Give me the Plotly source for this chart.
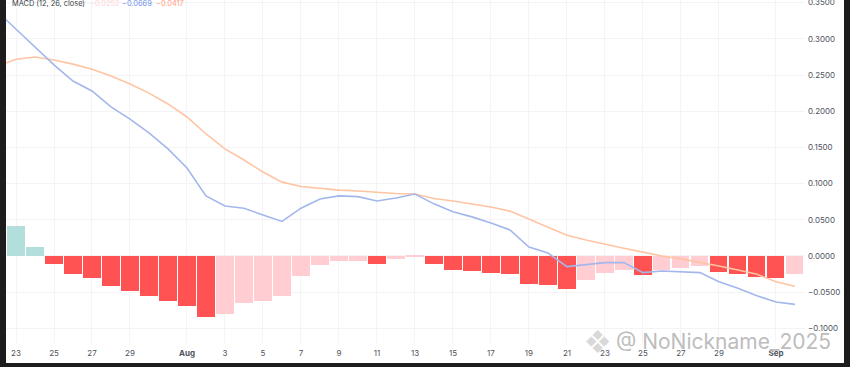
import pandas as pd
import plotly.graph_objects as go

dates = pd.date_range("2025-07-22", "2025-09-02", freq="D")

hist_dates = dates[1:]
hist_values = [0.0414, 0.012, -0.0106, -0.0244, -0.030, -0.042, -0.049, -0.055, -0.062, -0.0695, -0.0847,
               -0.0797, -0.0654, -0.062, -0.0557, -0.028, -0.0129, -0.0074, -0.0069, -0.0106, -0.004, -0.001,
               -0.0115, -0.0189, -0.0207, -0.023, -0.0253, -0.039, -0.040, -0.0456,
               -0.0327, -0.024, -0.0198, -0.0267, -0.020, -0.017, -0.0143,
               -0.0216, -0.0249, -0.0285, -0.030, -0.0252]
hist_colors = (["#B2DFDB"] * 2 + ["#FF5252"] * 9 + ["#FFCDD2"] * 8 + ["#FF5252"] + ["#FFCDD2"] * 2
               + ["#FF5252"] * 8 + ["#FFCDD2"] * 3 + ["#FF5252"] + ["#FFCDD2"] * 3
               + ["#FF5252"] * 4 + ["#FFCDD2"])

macd_values = [0.338, 0.313, 0.288, 0.264, 0.2417, 0.228, 0.206, 0.189, 0.170, 0.148, 0.1215, 0.083,
               0.069, 0.066, 0.0566, 0.0477, 0.066, 0.0787, 0.083, 0.082, 0.076, 0.080, 0.0856,
               0.072, 0.061, 0.054, 0.0456, 0.036, 0.0124, 0.004, -0.0147, -0.0124, -0.0092, -0.0092,
               -0.023, -0.0207, -0.0217, -0.023, -0.0355, -0.0445, -0.055, -0.0635, -0.0669]
signal_values = [0.262, 0.2717, 0.2748, 0.2707, 0.265, 0.258, 0.2486, 0.2376, 0.225, 0.21, 0.192, 0.1685,
                 0.148, 0.1326, 0.116, 0.102, 0.096, 0.093, 0.091, 0.0898, 0.0877, 0.0863, 0.0856,
                 0.0794, 0.076, 0.0718, 0.0677, 0.062, 0.051, 0.04, 0.0287, 0.022, 0.016, 0.0107,
                 0.0053, 0.0, -0.004, -0.0087, -0.0138, -0.0193, -0.0253, -0.0355, -0.0417]

x_tick_dates = ["2025-07-23", "2025-07-25", "2025-07-27", "2025-07-29", "2025-08-01", "2025-08-03", "2025-08-05",
                "2025-08-07", "2025-08-09", "2025-08-11", "2025-08-13", "2025-08-15", "2025-08-17", "2025-08-19",
                "2025-08-21", "2025-08-23", "2025-08-25", "2025-08-27", "2025-08-29", "2025-09-01"]
x_tick_labels = ["23", "25", "27", "29", "<b>Aug</b>", "3", "5", "7", "9", "11", "13", "15", "17", "19", "21",
                 "23", "25", "27", "29", "<b>Sep</b>"]
y_ticks = [0.35, 0.30, 0.25, 0.20, 0.15, 0.10, 0.05, 0.0, -0.05, -0.10]
y_labels = ["0.3500", "0.3000", "0.2500", "0.2000", "0.1500", "0.1000", "0.0500", "0.0000", "−0.0500", "−0.1000"]

W, H = 850, 367
L, R, T, B = 6, 45, 0, 24
PW, PH = W - L - R, H - T - B
TEXT = "#50535E"
DARK = "#1d1d1d"

fig = go.Figure()
fig.add_bar(x=hist_dates, y=hist_values, marker=dict(color=hist_colors, line_width=0),
            width=0.9 * 86400000, showlegend=False)
fig.add_scatter(x=dates, y=signal_values, mode="lines", line=dict(color="#FFC4A3", width=1.6), showlegend=False)
fig.add_scatter(x=dates, y=macd_values, mode="lines", line=dict(color="#A3B7EC", width=1.6), showlegend=False)

border = [(-L / PW, 0, -B / PH, 1),
          ((W - 6 - L) / PW, (W - L) / PW, -B / PH, 1),
          (-L / PW, (W - L) / PW, -B / PH, -(B - 4) / PH)]
shapes = [dict(type="rect", xref="paper", yref="paper", x0=a, x1=b, y0=c, y1=d,
               fillcolor=DARK, line_width=0, layer="above") for a, b, c, d in border]


def ann(text, px, py, size, color, anchor="left"):
    return dict(text=text, xref="paper", yref="paper", x=(px - L) / PW, y=1 - (py - T) / PH,
                xanchor=anchor, yanchor="middle", showarrow=False,
                font=dict(family="Inter, Liberation Sans, sans-serif", size=size, color=color))


annotations = [
    ann("MACD (12, 26, close)", 10, 4, 7.4, "#3a3d46"),
    ann("−0.0252", 88, 4, 7.4, "#FFD5D5"),
    ann("−0.0669", 120, 4, 7.4, "#6F8FE8"),
    ann("−0.0417", 154, 4, 7.4, "#FF9E80"),
    ann("❖", 597, 341, 24, "#D8D8D8", "center"),
    ann("@ NoNickname_2025", 614, 341, 21, "#BDBDBD"),
]

fig.update_layout(
    width=W, height=H, autosize=False, margin=dict(l=L, r=R, t=T, b=B, autoexpand=False),
    paper_bgcolor="white", plot_bgcolor="white", bargap=0, shapes=shapes, annotations=annotations,
    font=dict(family="Inter, Liberation Sans, sans-serif", size=8, color=TEXT),
    xaxis=dict(type="date",
               range=["2025-07-22 11:22", "2025-09-02 12:43"],
               tickmode="array", tickvals=x_tick_dates, ticktext=x_tick_labels, tickangle=0,
               showgrid=True, gridcolor="#F4F4F6", gridwidth=1, zeroline=False, showline=False, ticks="",
               ticklabelstandoff=4, tickfont=dict(size=8, color=TEXT)),
    yaxis=dict(side="right", range=[-0.1202, 0.3536], tickmode="array", tickvals=y_ticks, ticktext=y_labels,
               showgrid=True, gridcolor="#F4F4F6", gridwidth=1, zeroline=False, showline=False, ticks="",
               ticklabeloverflow="allow", ticklabelstandoff=2, tickfont=dict(size=8, color=TEXT)),
)

fig.write_html("out.html", config={"displayModeBar": False},
               post_script="document.body.style.margin='0';document.body.style.overflow='hidden';")
